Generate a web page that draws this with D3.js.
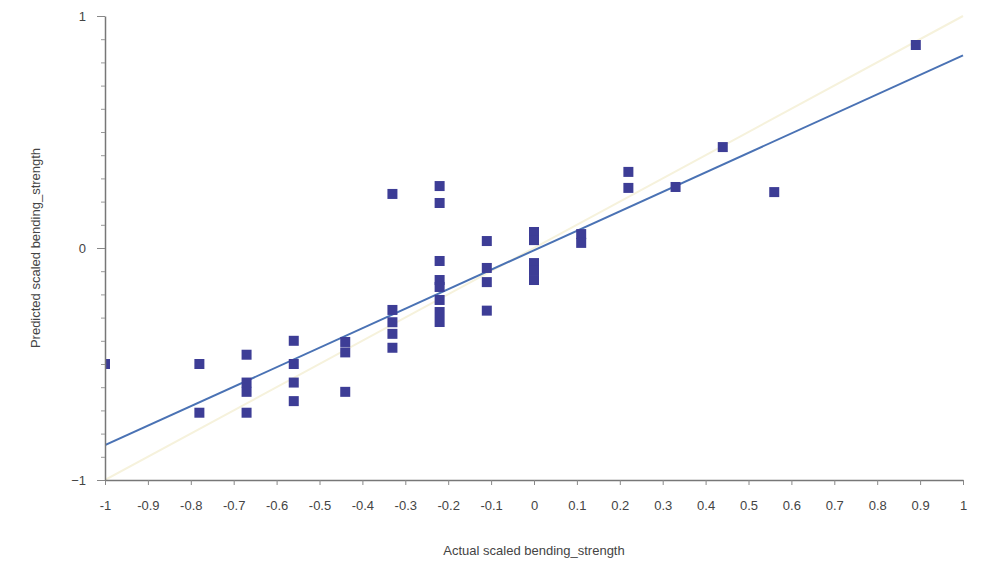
<!DOCTYPE html>
<html>
<head>
<meta charset="utf-8">
<script src="https://cdn.jsdelivr.net/npm/d3@7"></script>
<style>
  html, body { margin: 0; padding: 0; background: #fff; }
  svg { display: block; }
  text { font-family: "Liberation Sans", Arial, sans-serif; fill: #444; }
</style>
</head>
<body>
<svg id="chart" width="992" height="575"></svg>
<script>
// Data: actual (x) and predicted (y) scaled bending_strength
const actualX = [
  -1,
  -0.78, -0.78,
  -0.67, -0.67, -0.67, -0.67,
  -0.56, -0.56, -0.56, -0.56,
  -0.44, -0.44, -0.44,
  -0.33, -0.33, -0.33, -0.33, -0.33,
  -0.22, -0.22, -0.22, -0.22, -0.22, -0.22, -0.22, -0.22,
  -0.11, -0.11, -0.11, -0.11,
  0, 0, 0, 0, 0,
  0.11, 0.11,
  0.22, 0.22,
  0.33,
  0.44,
  0.56,
  0.89
];
const predictedY = [
  -0.50,
  -0.50, -0.71,
  -0.46, -0.58, -0.62, -0.71,
  -0.40, -0.50, -0.58, -0.66,
  -0.405, -0.45, -0.62,
  0.233, -0.267, -0.32, -0.37, -0.43,
  0.267, 0.194, -0.056, -0.138, -0.168, -0.224, -0.276, -0.319,
  0.03, -0.086, -0.147, -0.27,
  0.069, 0.034, -0.065, -0.095, -0.138,
  0.06, 0.022,
  0.328, 0.259,
  0.263,
  0.435,
  0.241,
  0.875
];
// Fitted line endpoints (x, y) and ideal y = x line
const fitX = [-1, 1];
const fitY = [-0.85, 0.83];
const idealX = [-1, 1];
const idealY = [-1, 1];
const xTicks = d3.range(-10, 11).map(d => d / 10);
const yMajorTicks = [-1, 0, 1];
const yMinorTicks = d3.range(-10, 11).map(d => d / 10);
const xTitle = "Actual scaled bending_strength";
const yTitle = "Predicted scaled bending_strength";

const svg = d3.select("#chart");
const mLeft = 105, mRight = 963, mTop = 16, mBottom = 480;
const x = d3.scaleLinear().domain([-1, 1]).range([mLeft, mRight]);
const y = d3.scaleLinear().domain([-1, 1]).range([mBottom, mTop]);
const fmt = d => (Math.abs(d) < 1e-9 ? "0" : String(+d.toFixed(1)));

svg.append("defs").append("clipPath").attr("id", "plotclip")
  .append("rect").attr("x", mLeft).attr("y", mTop - 10)
  .attr("width", mRight - mLeft + 10).attr("height", mBottom - mTop + 10);

const plot = svg.append("g").attr("clip-path", "url(#plotclip)");

// Ideal line (faint)
plot.append("line")
  .attr("x1", x(idealX[0])).attr("y1", y(idealY[0]))
  .attr("x2", x(idealX[1])).attr("y2", y(idealY[1]))
  .attr("stroke", "#f6f2dc").attr("stroke-width", 2);

// Fit line
plot.append("line")
  .attr("x1", x(fitX[0])).attr("y1", y(fitY[0]))
  .attr("x2", x(fitX[1])).attr("y2", y(fitY[1]))
  .attr("stroke", "#4a72b4").attr("stroke-width", 2);

// Points
const pts = actualX.map((d, i) => ({ x: d, y: predictedY[i] }));
const sz = 10;
plot.append("g").selectAll("rect").data(pts).join("rect")
  .attr("x", d => x(d.x) - sz / 2)
  .attr("y", d => y(d.y) - sz / 2)
  .attr("width", sz).attr("height", sz)
  .attr("fill", "#3d3d96");

// X axis
const xAxis = d3.axisBottom(x).tickValues(xTicks).tickFormat(fmt)
  .tickSize(5).tickSizeOuter(0);
const gx = svg.append("g").attr("transform", `translate(0,${mBottom})`).call(xAxis);
gx.select(".domain").attr("stroke", "#777").attr("stroke-width", 1.5);
gx.selectAll(".tick line").attr("stroke", "#888");
gx.selectAll(".tick text").attr("font-size", 13).attr("fill", "#444").attr("dy", "1.7em");

// Y axis minor ticks
const yAxisMinor = d3.axisLeft(y).tickValues(yMinorTicks).tickFormat("").tickSize(4).tickSizeOuter(0);
const gyMinor = svg.append("g").attr("transform", `translate(${mLeft},0)`).call(yAxisMinor);
gyMinor.select(".domain").attr("stroke", "#777").attr("stroke-width", 1.5);
gyMinor.selectAll(".tick line").attr("stroke", "#999");

// Y axis major ticks
const yAxisMajor = d3.axisLeft(y).tickValues(yMajorTicks).tickFormat(d3.format("d")).tickSize(8).tickSizeOuter(0);
const gy = svg.append("g").attr("transform", `translate(${mLeft},0)`).call(yAxisMajor);
gy.select(".domain").remove();
gy.selectAll(".tick line").attr("stroke", "#888");
gy.selectAll(".tick text").attr("font-size", 13).attr("fill", "#444").attr("dx", "-8");

// Titles
svg.append("text").attr("x", (mLeft + mRight) / 2).attr("y", 555)
  .attr("text-anchor", "middle").attr("font-size", 13).text(xTitle);
svg.append("text")
  .attr("transform", `translate(40,${(mTop + mBottom) / 2}) rotate(-90)`)
  .attr("text-anchor", "middle").attr("font-size", 13).text(yTitle);
</script>
</body>
</html>
